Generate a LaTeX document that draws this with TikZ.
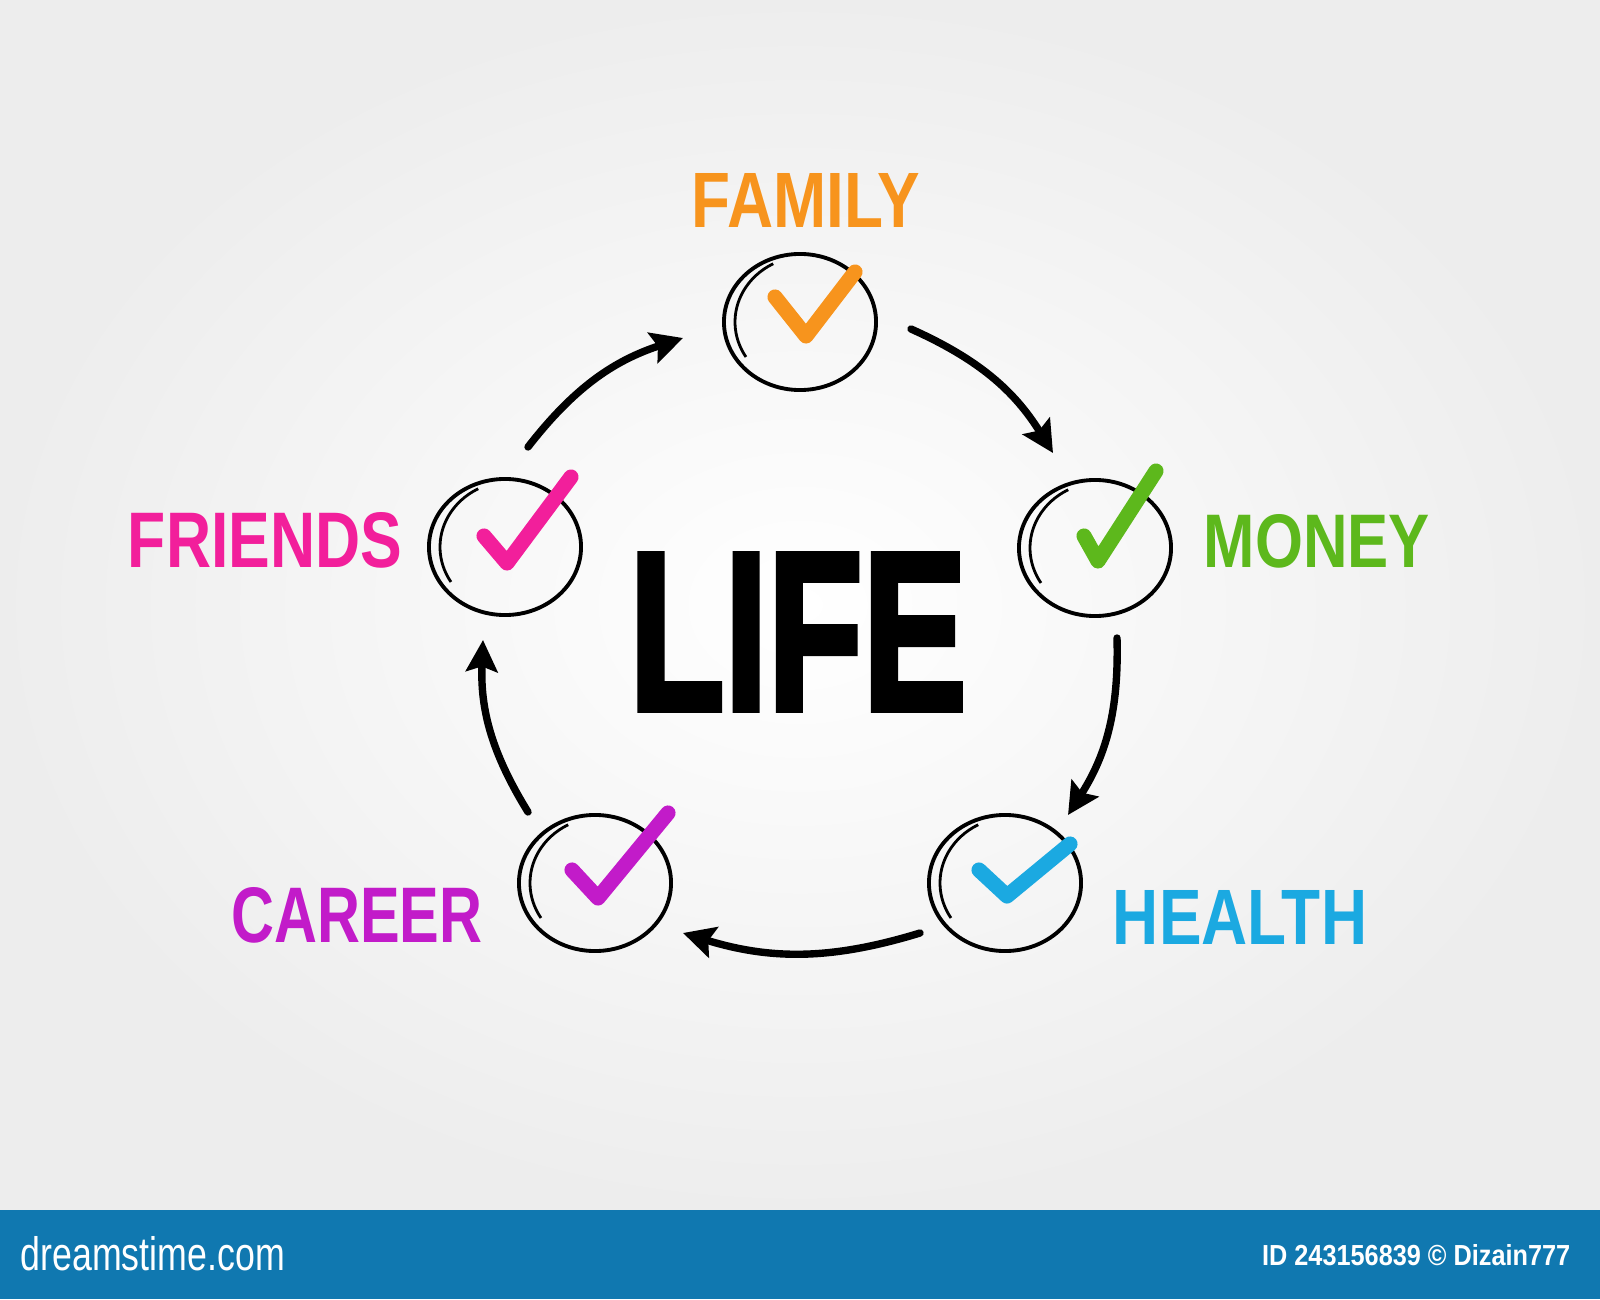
\documentclass[tikz,border=0pt]{standalone}
\usepackage{graphicx}
\usepackage{fontspec}
\setmainfont{Liberation Sans}
\newfontfamily\heavyfont{Liberation Sans Bold}[FakeBold=3]
\usepackage{tikz}
\usetikzlibrary{arrows.meta, shapes.geometric}
\definecolor{famorange}{HTML}{F7941D}
\definecolor{moneygreen}{HTML}{5DB81C}
\definecolor{healthblue}{HTML}{1BA9E1}
\definecolor{careerpurple}{HTML}{C21BC9}
\definecolor{friendpink}{HTML}{F21F9B}
\definecolor{bandblue}{HTML}{1078B0}

\begin{document}
\begin{tikzpicture}[x=0.01cm, y=0.01cm,
    ring/.style={ellipse, draw, line width=1.1pt, minimum width=1.52cm, minimum height=1.36cm, inner sep=0pt},
    tick/.style={line width=4.3pt, line cap=round, line join=round},
    arr/.style={-{Stealth[length=9pt, width=9pt, inset=1.5pt]}, line width=2.1pt, line cap=round},
    lbl/.style={inner sep=0pt, font=\bfseries}]
    \useasboundingbox (0,0) rectangle (1600,1299);
    \shade[inner color=white, outer color=black!7] (0,89) rectangle (1600,1299);
    \fill[bandblue] (0,0) rectangle (1600,89);

    \node[ring] (c1) at (800,977) {};
    \node[ring] (c2) at (1095,751) {};
    \node[ring] (c3) at (1005,416) {};
    \node[ring] (c4) at (595,416) {};
    \node[ring] (c5) at (505,752) {};

    %\foreach \i in {1,...,5} \fill (c\i) circle (2pt);
    \foreach \i in {1,...,5}
      \draw[line width=0.8pt] ([shift={(7,0)}]c\i.center) ++(212:72 and 66) arc[start angle=212, end angle=118, x radius=72, y radius=66];

    \draw[tick, famorange] ([shift={(-25,25)}]c1.center) -- ([shift={(6,-14)}]c1.center) -- ([shift={(55,50)}]c1.center);
    \draw[tick, moneygreen] ([shift={(-11,12)}]c2.center) -- ([shift={(3,-13)}]c2.center) -- ([shift={(61,77)}]c2.center);
    \draw[tick, healthblue] ([shift={(-26,13)}]c3.center) -- ([shift={(2,-13)}]c3.center) -- ([shift={(65,39)}]c3.center);
    \draw[tick, careerpurple] ([shift={(-23,13)}]c4.center) -- ([shift={(3,-15)}]c4.center) -- ([shift={(73,70)}]c4.center);
    \draw[tick, friendpink] ([shift={(-21,11)}]c5.center) -- ([shift={(2,-16)}]c5.center) -- ([shift={(66,70)}]c5.center);

    \foreach \i/\a/\j/\b in {5/{23,100}/1/{-117,-16}, 1/{111,-7}/2/{-42,95}, 2/{22,-90}/3/{63,68},
                             3/{-85,-50}/4/{88,-50}, 4/{-67,71}/5/{-22,-93}}
      \draw[arr] ([shift={(\a)}]c\i.center) to[bend left=17] ([shift={(\b)}]c\j.center);

    \node[lbl, famorange] (l1) at (806,1099) {\resizebox{2.28cm}{0.54cm}{FAMILY}};
    \node[lbl, moneygreen] (l2) at (1317,758) {\resizebox{2.26cm}{0.53cm}{MONEY}};
    \node[lbl, healthblue] (l3) at (1240,382) {\resizebox{2.54cm}{0.54cm}{HEALTH}};
    \node[lbl, careerpurple] (l4) at (357,384) {\resizebox{2.51cm}{0.55cm}{CAREER}};
    \node[lbl, friendpink] (l5) at (265,759) {\resizebox{2.74cm}{0.55cm}{FRIENDS}};
    \node[inner sep=0pt] (life) at (798,667) {\resizebox{3.37cm}{1.55cm}{\heavyfont LIFE}};

    \node[anchor=south west, inner sep=0pt, text=white] (brand) at (20,27) {\resizebox{2.64cm}{0.34cm}{dreamstime.com}};
    \node[anchor=base east, inner sep=0pt, text=white] (imgid) at (1571,34) {\resizebox{3.08cm}{0.21cm}{\bfseries ID 243156839 © Dizain777}};
\end{tikzpicture}
\end{document}
